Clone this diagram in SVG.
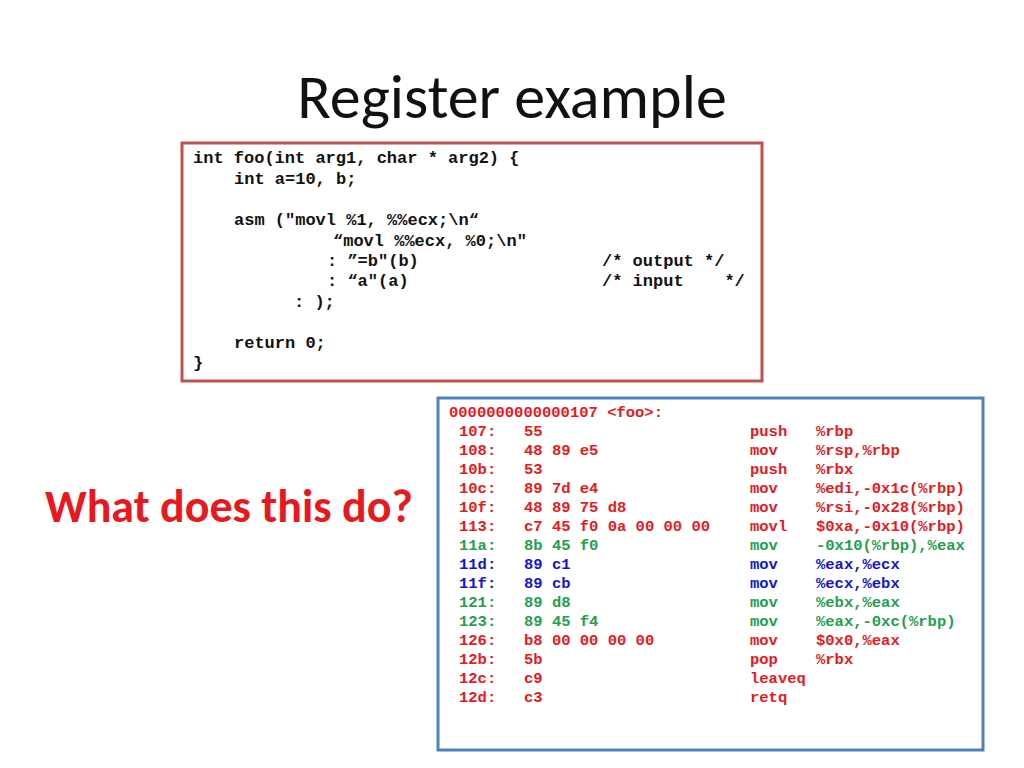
<svg xmlns="http://www.w3.org/2000/svg" width="1024" height="768" viewBox="0 0 1024 768">
<style>
.c{font-family:"Liberation Mono",monospace;font-weight:bold;font-size:17px;fill:#111}
.a{font-family:"Liberation Mono",monospace;font-weight:bold;font-size:15.5px}
.r{fill:#e8191e}.g{fill:#1fa04e}.b{fill:#1414d2}
</style>
<rect width="1024" height="768" fill="#fff"/>
<text x="512" y="118" text-anchor="middle" font-family="Carlito,'Liberation Sans',sans-serif" font-size="62" fill="#111">Register example</text>
<g id="code">
<rect x="182" y="143" width="580" height="238" fill="#fff" stroke="#c0504d" stroke-width="3"/>
<text class="c" x="193" y="163">int foo(int arg1, char * arg2) {</text>
<text class="c" x="234" y="184">int a=10, b;</text>
<text class="c" x="234" y="225">asm ("movl %1, %%ecx;\n“</text>
<text class="c" x="333" y="246">“movl %%ecx, %0;\n"</text>
<text class="c" x="327" y="266">: ”=b"(b)</text>
<text class="c" x="602" y="266">/* output */</text>
<text class="c" x="327" y="286">: “a"(a)</text>
<text class="c" x="602" y="286" xml:space="preserve">/* input    */</text>
<text class="c" x="294" y="307">: );</text>
<text class="c" x="234" y="348">return 0;</text>
<text class="c" x="193" y="368">}</text>
</g>
<text x="45" y="522" font-family="Carlito,'Liberation Sans',sans-serif" font-weight="bold" font-size="46" fill="#e8191e">What does this do?</text>
<g id="asm">
<rect x="438" y="398" width="545" height="352" fill="#fff" stroke="#4f81bd" stroke-width="3"/>
<text class="a r" x="449" y="417">0000000000000107 &lt;foo&gt;:</text>
<g class="a r">
<text x="459" y="436">107:</text><text x="524" y="436">55</text><text x="750" y="436">push</text><text x="816" y="436">%rbp</text>
<text x="459" y="455">108:</text><text x="524" y="455">48 89 e5</text><text x="750" y="455">mov</text><text x="816" y="455">%rsp,%rbp</text>
<text x="459" y="474">10b:</text><text x="524" y="474">53</text><text x="750" y="474">push</text><text x="816" y="474">%rbx</text>
<text x="459" y="493">10c:</text><text x="524" y="493">89 7d e4</text><text x="750" y="493">mov</text><text x="816" y="493">%edi,-0x1c(%rbp)</text>
<text x="459" y="512">10f:</text><text x="524" y="512">48 89 75 d8</text><text x="750" y="512">mov</text><text x="816" y="512">%rsi,-0x28(%rbp)</text>
<text x="459" y="531">113:</text><text x="524" y="531">c7 45 f0 0a 00 00 00</text><text x="750" y="531">movl</text><text x="816" y="531">$0xa,-0x10(%rbp)</text>
</g>
<g class="a g">
<text x="459" y="550">11a:</text><text x="524" y="550">8b 45 f0</text><text x="750" y="550">mov</text><text x="816" y="550">-0x10(%rbp),%eax</text>
</g>
<g class="a b">
<text x="459" y="569">11d:</text><text x="524" y="569">89 c1</text><text x="750" y="569">mov</text><text x="816" y="569">%eax,%ecx</text>
<text x="459" y="588">11f:</text><text x="524" y="588">89 cb</text><text x="750" y="588">mov</text><text x="816" y="588">%ecx,%ebx</text>
</g>
<g class="a g">
<text x="459" y="607">121:</text><text x="524" y="607">89 d8</text><text x="750" y="607">mov</text><text x="816" y="607">%ebx,%eax</text>
<text x="459" y="626">123:</text><text x="524" y="626">89 45 f4</text><text x="750" y="626">mov</text><text x="816" y="626">%eax,-0xc(%rbp)</text>
</g>
<g class="a r">
<text x="459" y="645">126:</text><text x="524" y="645">b8 00 00 00 00</text><text x="750" y="645">mov</text><text x="816" y="645">$0x0,%eax</text>
<text x="459" y="664">12b:</text><text x="524" y="664">5b</text><text x="750" y="664">pop</text><text x="816" y="664">%rbx</text>
<text x="459" y="683">12c:</text><text x="524" y="683">c9</text><text x="750" y="683">leaveq</text>
<text x="459" y="702">12d:</text><text x="524" y="702">c3</text><text x="750" y="702">retq</text>
</g>
</g>
</svg>
